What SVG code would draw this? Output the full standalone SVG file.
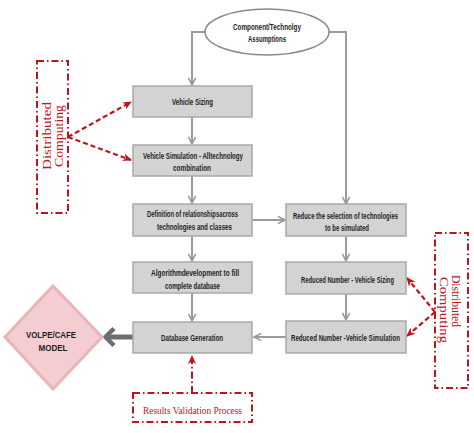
<svg xmlns="http://www.w3.org/2000/svg" width="474" height="433" viewBox="0 0 474 433">
<defs>
<style>
.box{fill:#d3d3d3;stroke:#a9a9a9;stroke-width:1.5}
.t{font-family:"Liberation Sans Narrow","Liberation Sans",Arial,sans-serif;font-weight:bold;font-size:8.6px;fill:#1e1e1e;text-anchor:middle}
.con{fill:none;stroke:#9b9b9b;stroke-width:2}
.red{fill:none;stroke:#c0141c;stroke-width:2.2;stroke-dasharray:5 3}
.dd{fill:none;stroke:#c0141c;stroke-width:2;stroke-dasharray:7 3 1.5 3}
.rt{font-family:"Liberation Serif","Times New Roman",serif;fill:#c0141c;text-anchor:middle}
</style>
<marker id="ga" viewBox="0 0 10 10" refX="9" refY="5" markerWidth="9" markerHeight="9" markerUnits="userSpaceOnUse" orient="auto">
<path d="M1,1 L9,5 L1,9" fill="none" stroke="#9b9b9b" stroke-width="1.8"/>
</marker>
<marker id="ra" viewBox="0 0 10 10" refX="9" refY="5" markerWidth="9" markerHeight="9" markerUnits="userSpaceOnUse" orient="auto">
<path d="M0,0.5 L10,5 L0,9.5 L3,5 Z" fill="#c0141c"/>
</marker>
</defs>
<rect width="474" height="433" fill="#ffffff"/>

<g id="connectors">
<path class="con" d="M205,32 H192 V85" marker-end="url(#ga)"/>
<path class="con" d="M329,32 H346 V204" marker-end="url(#ga)"/>
<path class="con" d="M192,117 V144" marker-end="url(#ga)"/>
<path class="con" d="M192,176 V203" marker-end="url(#ga)"/>
<path class="con" d="M192,236 V261" marker-end="url(#ga)"/>
<path class="con" d="M192,293 V321" marker-end="url(#ga)"/>
<path class="con" d="M252,220 H285" marker-end="url(#ga)"/>
<path class="con" d="M346,236 V261" marker-end="url(#ga)"/>
<path class="con" d="M346,294 V320" marker-end="url(#ga)"/>
<path class="con" d="M286,337 H254" marker-end="url(#ga)"/>
<path d="M133,337 H106" fill="none" stroke="#6e6e6e" stroke-width="5"/>
<path d="M114,328.5 L105.5,337 L114,345.5" fill="none" stroke="#6e6e6e" stroke-width="4.5"/>
<path class="red" d="M68,137 L131,102" marker-end="url(#ra)"/>
<path class="red" d="M68,137 L131,160" marker-end="url(#ra)"/>
<path class="red" d="M435,312 L407,278" marker-end="url(#ra)"/>
<path class="red" d="M435,312 L407,336" marker-end="url(#ra)"/>
<path class="dd" d="M192,393 V356" marker-end="url(#ra)"/>
</g>

<g id="assumptions">
<ellipse cx="267" cy="32" rx="62" ry="23" fill="#ffffff" stroke="#8a8a8a" stroke-width="1.5"/>
<text class="t" x="267" y="30" textLength="68" lengthAdjust="spacingAndGlyphs">Component/Technolgy</text>
<text class="t" x="267" y="42" textLength="38" lengthAdjust="spacingAndGlyphs">Assumptions</text>
</g>

<g id="vehicle-sizing">
<rect class="box" x="133" y="86" width="119" height="31"/>
<text class="t" x="192.5" y="105" textLength="41" lengthAdjust="spacingAndGlyphs">Vehicle Sizing</text>
</g>

<g id="vehicle-simulation">
<rect class="box" x="133" y="145" width="119" height="31"/>
<text class="t" x="193" y="159" textLength="100" lengthAdjust="spacingAndGlyphs">Vehicle Simulation - Alltechnology</text>
<text class="t" x="192" y="171" textLength="38" lengthAdjust="spacingAndGlyphs">combination</text>
</g>

<g id="definition">
<rect class="box" x="133" y="204" width="119" height="32"/>
<text class="t" x="192.5" y="217" textLength="91" lengthAdjust="spacingAndGlyphs">Definition of relationshipsacross</text>
<text class="t" x="194.5" y="230" textLength="75" lengthAdjust="spacingAndGlyphs">technologies and classes</text>
</g>

<g id="algorithm">
<rect class="box" x="133" y="262" width="119" height="31"/>
<text class="t" x="195" y="276" textLength="88" lengthAdjust="spacingAndGlyphs">Algorithmdevelopment to fill</text>
<text class="t" x="192.5" y="289" textLength="55" lengthAdjust="spacingAndGlyphs">complete database</text>
</g>

<g id="database-generation">
<rect class="box" x="133" y="322" width="119" height="31"/>
<text class="t" x="192" y="341" textLength="62" lengthAdjust="spacingAndGlyphs">Database Generation</text>
</g>

<g id="reduce-selection">
<rect class="box" x="286" y="204" width="120" height="32"/>
<text class="t" x="345.5" y="219" textLength="105" lengthAdjust="spacingAndGlyphs">Reduce the selection of technologies</text>
<text class="t" x="347" y="231" textLength="44" lengthAdjust="spacingAndGlyphs">to be simulated</text>
</g>

<g id="reduced-sizing">
<rect class="box" x="286" y="262" width="120" height="32"/>
<text class="t" x="347.5" y="283" textLength="93" lengthAdjust="spacingAndGlyphs">Reduced Number - Vehicle Sizing</text>
</g>

<g id="reduced-simulation">
<rect class="box" x="286" y="321" width="120" height="32"/>
<text class="t" x="345.5" y="341" textLength="109" lengthAdjust="spacingAndGlyphs">Reduced Number -Vehicle Simulation</text>
</g>

<g id="volpe-cafe">
<polygon points="53,286 102,337 53,389 5,337" fill="#f3cdd0" stroke="#e9b5ba" stroke-width="3"/>
<text class="t" x="51" y="338" font-size="10.5" textLength="50" lengthAdjust="spacingAndGlyphs">VOLPE/CAFE</text>
<text class="t" x="53" y="351" font-size="10.5" textLength="29" lengthAdjust="spacingAndGlyphs">MODEL</text>
</g>

<g id="distributed-left">
<rect class="dd" x="37" y="61" width="31" height="152"/>
<text class="rt" font-size="12" transform="translate(47 136) rotate(-90)" y="4.2" textLength="68" lengthAdjust="spacingAndGlyphs">Distributed</text>
<text class="rt" font-size="12" transform="translate(59 136) rotate(-90)" y="4.2" textLength="62" lengthAdjust="spacingAndGlyphs">Computing</text>
</g>

<g id="distributed-right">
<rect class="dd" x="435" y="233" width="33" height="155"/>
<text class="rt" font-size="12" transform="translate(456 301) rotate(90)" y="4.2" textLength="52" lengthAdjust="spacingAndGlyphs">Distributed</text>
<text class="rt" font-size="12" transform="translate(444 310) rotate(90)" y="4.2" textLength="66" lengthAdjust="spacingAndGlyphs">Computing</text>
</g>

<g id="results-validation">
<rect class="dd" x="133" y="393" width="119" height="29"/>
<text class="rt" x="192.5" y="414" font-size="10.5" textLength="99" lengthAdjust="spacingAndGlyphs">Results Validation Process</text>
</g>
</svg>
